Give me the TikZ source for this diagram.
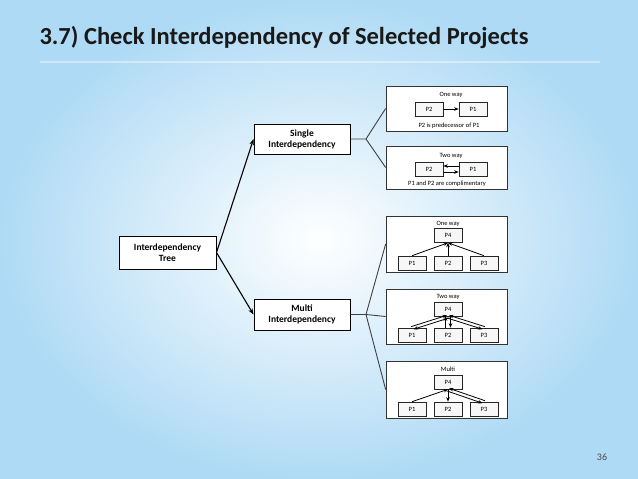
\documentclass[tikz,border=0pt]{standalone}
\usepackage{fontspec}
\setmainfont{Carlito}
\usetikzlibrary{arrows.meta}
\definecolor{sky}{RGB}{175,218,245}
\begin{document}
\begin{tikzpicture}[x=1pt,y=-1pt,
 big/.style={draw,line width=1pt,fill=white,align=center,font=\bfseries\fontsize{9.5}{11}\selectfont,inner sep=0pt},
 panel/.style={draw=black!80,line width=0.7pt,fill=white,inner sep=0pt},
 pb/.style={draw=black!85,line width=0.6pt,fill=black!3,minimum width=28pt,minimum height=14pt,inner sep=0pt,font=\fontsize{6.5}{7}\selectfont},
 lab/.style={font=\fontsize{6.5}{7}\selectfont,inner sep=0pt},
 arr/.style={-{Stealth[length=6pt,width=4.5pt]},line width=1.1pt},
 sarr/.style={-{Stealth[length=4.5pt,width=3.5pt]},line width=0.8pt},
 br/.style={draw=black!75,line width=0.9pt}]
\useasboundingbox (0,0) rectangle (638,479);
\shade[inner color=white,outer color=sky] (0,0) rectangle (638,479);
\fill[white,opacity=0.4] (40,61) rectangle (600,63);
\node[anchor=west,font=\bfseries\fontsize{24.5}{26}\selectfont,text=black!90] (title) at (36,37) {3.7) Check Interdependency of Selected Projects};
\node[font=\fontsize{10}{12}\selectfont,text=black!70] (pg) at (602,457) {36};
% main boxes
\node[big,minimum width=97pt,minimum height=33pt] (root) at (167.5,252.5) {Interdependency\\Tree};
\node[big,minimum width=96pt,minimum height=30pt] (single) at (302,139) {Single\\Interdependency};
\node[big,minimum width=96pt,minimum height=31pt] (multi) at (302,314.5) {Multi\\Interdependency};
\draw[arr] (root.east) -- (single.west);
\draw[arr] (root.east) -- (multi.west);
% panels
\node[panel,minimum width=121pt,minimum height=45pt] (b1) at (446.5,108.5) {};
\node[panel,minimum width=121pt,minimum height=43pt] (b2) at (446.5,167.5) {};
\node[panel,minimum width=121pt,minimum height=56pt] (b3) at (446.5,244) {};
\node[panel,minimum width=121pt,minimum height=55pt] (b4) at (446.5,316.5) {};
\node[panel,minimum width=121pt,minimum height=57pt] (b5) at (446.5,389.5) {};
\coordinate (js) at (366,139);
\coordinate (jm) at (366,314.5);
\draw[br] (single.east) -- (js) -- (b1.west);
\draw[br] (js) -- (b2.west);
\draw[br] (multi.east) -- (jm) -- (b3.west);
\draw[br] (jm) -- (b4.west);
\draw[br] (jm) -- (b5.west);
% panel 1
\node[lab] (t1) at (451,95) {One way};
\node[pb] (a2) at (429,109) {P2};
\node[pb] (a1) at (473,109) {P1};
\node[lab] (c1) at (449,125.5) {P2 is predecessor of P1};
\draw[sarr] (a2) -- (a1);
% panel 2
\node[lab] (t2) at (451,155.5) {Two way};
\node[pb] (d2) at (429,169) {P2};
\node[pb] (d1) at (473,169) {P1};
\node[lab] (c2) at (447,183.5) {P1 and P2 are complimentary};
\draw[sarr] ([yshift=-3pt]d2.east) -- ([yshift=-3pt]d1.west);
\draw[sarr] ([yshift=3pt]d1.west) -- ([yshift=3pt]d2.east);
% panel 3
\node[lab] (t3) at (448,224) {One way};
\node[pb] (e4) at (448,235.5) {P4};
\node[pb] (e1) at (412,263) {P1};
\node[pb] (e2) at (448,263) {P2};
\node[pb] (e3) at (484,263) {P3};
\draw[sarr] (e1.north) -- (e4.south);
\draw[sarr] (e2.north) -- (e4.south);
\draw[sarr] (e3.north) -- (e4.south);
% panel 4
\node[lab] (t4) at (448,297) {Two way};
\node[pb] (f4) at (448,309) {P4};
\node[pb] (f1) at (412,335) {P1};
\node[pb] (f2) at (448,335) {P2};
\node[pb] (f3) at (484,335) {P3};
\draw[sarr] ([xshift=-1pt,yshift=1pt]f1.north) -- ([xshift=-1pt,yshift=1pt]f4.south);
\draw[sarr] ([xshift=1.5pt,yshift=-1.5pt]f4.south) -- ([xshift=1.5pt,yshift=-1.5pt]f1.north);
\draw[sarr] ([xshift=-2.5pt]f2.north) -- ([xshift=-2.5pt]f4.south);
\draw[sarr] ([xshift=2.5pt]f4.south) -- ([xshift=2.5pt]f2.north);
\draw[sarr] ([xshift=1pt,yshift=1pt]f3.north) -- ([xshift=1pt,yshift=1pt]f4.south);
\draw[sarr] ([xshift=-1.5pt,yshift=-1.5pt]f4.south) -- ([xshift=-1.5pt,yshift=-1.5pt]f3.north);
% panel 5
\node[lab] (t5) at (448,369) {Multi};
\node[pb] (g4) at (448,382) {P4};
\node[pb] (g1) at (412,409) {P1};
\node[pb] (g2) at (448,409) {P2};
\node[pb] (g3) at (484,409) {P3};
\draw[sarr] (g1.north) -- (g4.south);
\draw[sarr] (g4.south) -- (g2.north);
\draw[sarr] ([xshift=1pt,yshift=1pt]g3.north) -- ([xshift=1pt,yshift=1pt]g4.south);
\draw[sarr] ([xshift=-1.5pt,yshift=-1.5pt]g4.south) -- ([xshift=-1.5pt,yshift=-1.5pt]g3.north);
\end{tikzpicture}
\end{document}
